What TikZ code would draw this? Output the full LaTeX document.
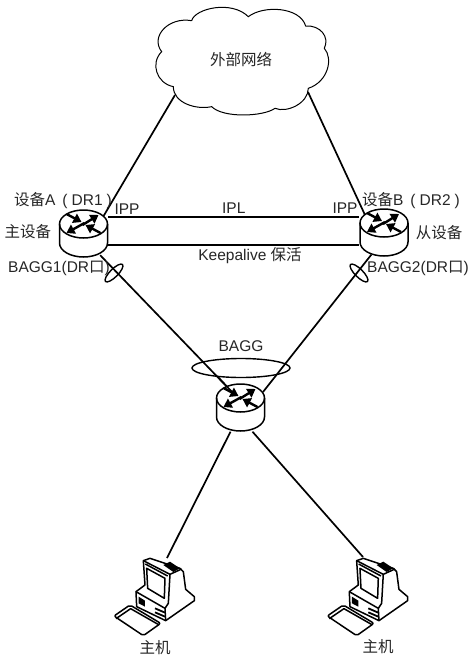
\documentclass[tikz,border=0pt]{standalone}
\usepackage{fontspec}
\setmainfont{Liberation Sans}
\newfontfamily\cjk{Noto Sans CJK SC}
\usetikzlibrary{arrows.meta}
\newcommand{\zh}[1]{{\cjk #1}}
\tikzset{
  link/.style={line width=1.7pt},
  lbl/.style={font=\fontsize{15.5}{17}\selectfont,inner sep=0pt,text=black!85},
  hub/.style={minimum width=49pt,minimum height=47pt,inner sep=0pt},
  ring/.style={draw,line width=1.4pt},
  rarrow/.style={line width=2.4pt,-{Triangle[length=8pt,width=10pt]}},
  router/.pic={
    \fill[white] (-24,0) -- (-24,19) arc[x radius=24,y radius=14,start angle=180,end angle=0] -- (24,0) arc[x radius=24,y radius=14,start angle=0,end angle=-180] -- cycle;
    \draw[line width=1.5pt] (-24,0) -- (-24,19) arc[x radius=24,y radius=14,start angle=180,end angle=0] -- (24,0);
    \draw[line width=1.5pt] (0,0) ellipse[x radius=24,y radius=14];
    \draw[rarrow] (-1,1) -- (15,-9);
    \draw[rarrow] (1,-1) -- (-17,9);
    \draw[rarrow] (-17,-10) -- (-2,-2);
    \draw[rarrow] (17,9) -- (2,1);
  },
  host/.pic={
    \begin{scope}[x=.3333pt,y=-.3333pt,line width=1.5pt,line join=round]
      \draw[fill=white] (130,62) -- (150,55) -- (240,85) -- (250,95) -- (257,148) -- (283,170) -- (283,182) -- (197,242) -- (110,200) -- (108,155) -- (135,135) -- cycle;
      \draw (130,62) -- (210,103) -- (245,87);
      \draw (210,103) -- (205,190) -- (195,205);
      \draw (136,72) -- (203,108);
      \draw (140,85) -- (195,115) -- (193,175) -- (143,145) -- cycle;
      \draw (108,155) -- (195,205) -- (197,242);
      \fill (190,75) -- (210,65) -- (240,85) -- (220,96) -- cycle;
      \fill (116,170) -- (135,182) -- (135,200) -- (116,190) -- cycle;
      \draw[line width=1.8pt] (165,205) -- (195,218) (165,217) -- (195,230);
      \draw[fill=white,rounded corners=2pt] (42,228) -- (90,195) -- (182,250) -- (130,287) -- cycle;
      \draw (48,236) -- (92,206) -- (176,254);
    \end{scope}
  }
}
\begin{document}
\begin{tikzpicture}[x=1pt,y=-1pt]
  \useasboundingbox (0,0) rectangle (474,661);

  \node[hub] (rtA) at (83.5,233.5) {};
  \node[hub] (rtB) at (384,233) {};
  \node[hub] (rtC) at (240.5,408) {};
  \coordinate (netL) at (175,95);
  \coordinate (netR) at (308,92);
  \coordinate (portA) at (103,217);
  \coordinate (portB) at (365,215);
  \coordinate (hostL) at (167,558);
  \coordinate (hostR) at (363,557);
  \coordinate (coreL) at (232,392);
  \coordinate (coreR) at (263,392);

  % links
  \draw[link] (netL) -- (portA);
  \draw[link] (netR) -- (portB);
  \draw[link] (rtA.east |- 0,217) -- node[lbl,above=3pt] (ipl) {IPL} (rtB.west |- 0,217);
  \draw[link] (rtA.east |- 0,245) -- (rtB.west |- 0,245);
  \draw[link] (rtA.south east) ++(-8,-2) -- (coreL);
  \draw[link] (rtB.south west) ++(12,-2) -- (coreR);
  \draw[link] ([xshift=-10pt]rtC.south) -- (hostL);
  \draw[link] ([xshift=12pt]rtC.south) -- (hostR);

  % cloud
  \draw[line width=1pt,fill=white,shift={(140,0)},x=.3333pt,y=-.3333pt]
    (155,62) .. controls (165,25) and (275,0) .. (325,50)
    .. controls (370,15) and (480,20) .. (497,78)
    .. controls (540,75) and (570,110) .. (553,145)
    .. controls (580,175) and (565,245) .. (505,265)
    .. controls (505,310) and (440,340) .. (405,325)
    .. controls (370,350) and (250,355) .. (215,320)
    .. controls (170,330) and (100,310) .. (100,260)
    .. controls (50,250) and (30,190) .. (65,155)
    .. controls (30,110) and (85,50) .. (155,62);
  \node[lbl] (net) at (241,60) {\zh{外部网络}};

  % devices
  \pic at (83.5,224) {router};
  \pic at (384,223) {router};
  \pic at (240.5,398) {router};
  \pic at (100,540) {host};
  \pic at (313.3,540) {host};
  \draw[link] (coreL) -- (218,377);

  % bundles
  \draw[ring] (114,273) ellipse[x radius=12,y radius=4,rotate=45];
  \draw[ring] (359,273) ellipse[x radius=12,y radius=4,rotate=-45];
  \draw[ring] (241,368) ellipse[x radius=49,y radius=9.5];

  % labels
  \node[lbl] (tagA) at (63,201) {\zh{设备}A\hspace{7pt}(\hspace{4pt}DR1\hspace{4pt})};
  \node[lbl] (roleA) at (28,232) {\zh{主设备}};
  \node[lbl] (ippA) at (127,209) {IPP};
  \node[lbl] (ippB) at (345,208) {IPP};
  \node[lbl] (tagB) at (411,201) {\zh{设备}B\hspace{7pt}(\hspace{4pt}DR2\hspace{4pt})};
  \node[lbl] (roleB) at (439,233) {\zh{从设备}};
  \node[lbl] (keep) at (250,256) {Keepalive \zh{保活}};
  \node[lbl] (baggA) at (59,268) {BAGG1(DR\zh{口})};
  \node[lbl] (baggB) at (418,268) {BAGG2(DR\zh{口})};
  \node[lbl] (bagg) at (241,346) {BAGG};
  \node[lbl] (nameL) at (155,648) {\zh{主机}};
  \node[lbl] (nameR) at (378,647) {\zh{主机}};
\end{tikzpicture}
\end{document}
